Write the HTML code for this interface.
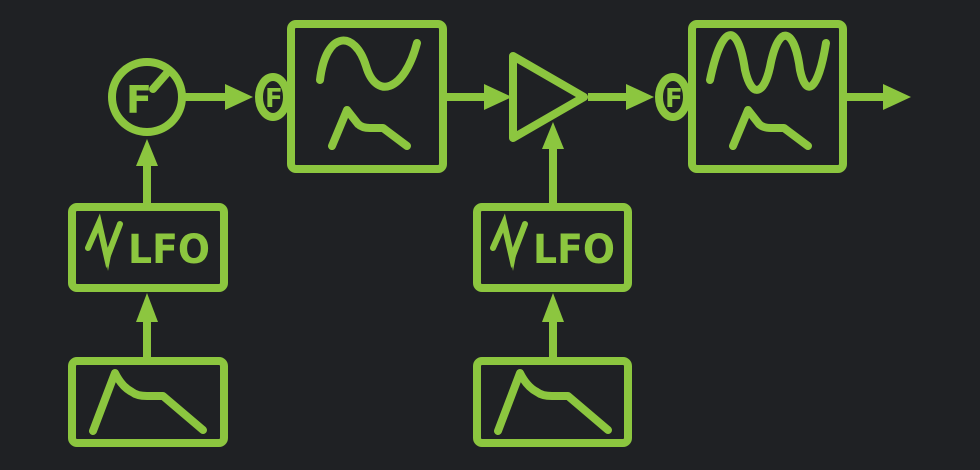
<!DOCTYPE html>
<html><head><meta charset="utf-8"><style>
html,body{margin:0;padding:0;background:#1f2124;}
svg{display:block}
text{font-family:"DejaVu Sans","Liberation Sans",sans-serif;font-weight:bold;fill:#8cc63f}
</style></head><body>
<svg width="980" height="470" viewBox="0 0 980 470" xmlns="http://www.w3.org/2000/svg">
<rect width="980" height="470" fill="#1f2124"/>
<g stroke="#8cc63f" stroke-width="8" fill="none" stroke-linecap="round" stroke-linejoin="round">
  <circle cx="147" cy="97" r="35"/>
  <line x1="153" y1="89" x2="167" y2="73"/>
  <line x1="185" y1="97" x2="232" y2="97" stroke-linecap="butt"/>
  <rect x="291" y="24" width="152" height="145" rx="5"/>
  <ellipse cx="273" cy="97" rx="14" ry="20"/>
  <path d="M320 80 C326 30,355 30,366 66 C376 100,404 92,417 43"/>
  <path d="M332 146 L347 110 L358 124 Q362 128,370 128 L383 128 L407 146"/>
  <line x1="447" y1="97" x2="490" y2="97" stroke-linecap="butt"/>
  <path d="M513 56 L584 97 L513 138 Z"/>
  <line x1="588" y1="97" x2="632" y2="97" stroke-linecap="butt"/>
  <rect x="692" y="24" width="151" height="145" rx="5"/>
  <ellipse cx="673" cy="97" rx="14" ry="20"/>
  <path d="M710 80 C722 22,738 22,745 70 C752 100,765 95,771 62 C780 22,795 30,800 70 C806 98,818 92,826 43"/>
  <path d="M733 146 L748 110 L759 124 Q763 128,771 128 L784 128 L808 146"/>
  <line x1="847" y1="97" x2="890" y2="97" stroke-linecap="butt"/>
  <rect x="72" y="207" width="152" height="81" rx="5"/>
  <rect x="477" y="207" width="151" height="81" rx="5"/>
  <rect x="72" y="361" width="152" height="82" rx="5"/>
  <rect x="477" y="361" width="151" height="82" rx="5"/>
  <path d="M93 431 L115 373 Q122 387,132 392 Q137 396,147 396 L163 396 L203 430"/>
  <path d="M498 431 L520 373 Q527 387,537 392 Q542 396,552 396 L568 396 L608 430"/>
  <line x1="147" y1="203" x2="147" y2="160" stroke-linecap="butt"/>
  <line x1="147" y1="357" x2="147" y2="318" stroke-linecap="butt"/>
  <line x1="553" y1="203" x2="553" y2="145" stroke-linecap="butt"/>
  <line x1="553" y1="357" x2="553" y2="318" stroke-linecap="butt"/>
</g>
<g stroke="#8cc63f" stroke-width="6" fill="none" stroke-linecap="round" stroke-linejoin="miter">
  <path d="M88 248 L99 223 L107 258 L120 224"/>
  <path d="M493 248 L504 223 L512 258 L525 224"/>
</g>
<g fill="#8cc63f">
  <path d="M253 97 L225 84 L225 110 Z"/>
  <path d="M512 97 L484 84 L484 110 Z"/>
  <path d="M654 97 L626 84 L626 110 Z"/>
  <path d="M911 97 L883 84 L883 110 Z"/>
  <path d="M147 139 L136 166 L158 166 Z"/>
  <path d="M147 293 L136 322 L158 322 Z"/>
  <path d="M553 122 L542 149 L564 149 Z"/>
  <path d="M553 293 L542 322 L564 322 Z"/>
  <path d="M104 250 L108 271 L112 250 Z"/>
  <path d="M509 250 L513 271 L517 250 Z"/>
</g>
<text x="126" y="113" font-size="38">F</text>
<text x="265" y="107" font-size="26">F</text>
<text x="665" y="107" font-size="26">F</text>
<text x="128" y="263" font-size="40" textLength="82" lengthAdjust="spacingAndGlyphs">LFO</text>
<text x="533" y="263" font-size="40" textLength="82" lengthAdjust="spacingAndGlyphs">LFO</text>
</svg>
</body></html>
